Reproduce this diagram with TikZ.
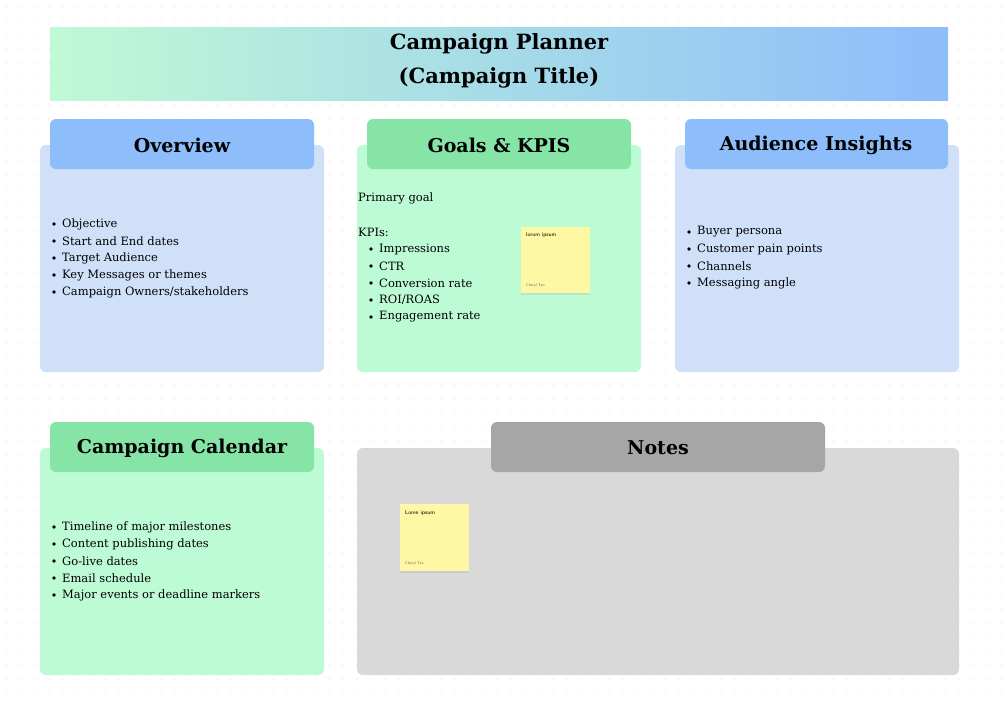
\documentclass[tikz,border=0pt]{standalone}
\usepackage{fontspec}
\setmainfont{DejaVu Serif}
\usetikzlibrary{shadows}
\definecolor{bluehd}{HTML}{8DBDFB}
\definecolor{bluebd}{HTML}{CFE0F8}
\definecolor{greenhd}{HTML}{86E5A6}
\definecolor{greenbd}{HTML}{BDFBD5}
\definecolor{grayhd}{HTML}{A6A6A6}
\definecolor{graybd}{HTML}{D9D9D9}
\definecolor{sticky}{HTML}{FEF8A5}
\begin{document}
\begin{tikzpicture}[x=1pt,y=-1pt,
 body/.style={rounded corners=6pt,draw=none},
 hd/.style={rounded corners=6pt,draw=none},
 hdtext/.style={font=\fontsize{19}{22}\selectfont\bfseries},
 txt/.style={font=\fontsize{11.5}{17}\selectfont,anchor=west,inner sep=0},
 note/.style={fill=sticky,drop shadow={opacity=0.15,shadow xshift=0pt,shadow yshift=-1.5pt}},
 ntxt/.style={font=\sffamily\fontsize{5.5}{6}\selectfont,anchor=west,inner sep=0},
 nsig/.style={font=\sffamily\fontsize{3.8}{4}\selectfont,anchor=west,inner sep=0,text=black!60}]
\useasboundingbox (0,0) rectangle (1005,705);
\fill[white] (0,0) rectangle (1005,705);
\foreach \i in {0,...,71} \foreach \j in {0,...,50}
  \fill[black!14] (7+14*\i,7+14*\j) circle (0.7);
% title
\shade[left color={rgb,255:red,191;green,249;blue,213}, right color={rgb,255:red,141;green,189;blue,251}] (50,27) rectangle (948,100);
\node[font=\fontsize{21}{34}\selectfont\bfseries,align=center] (title) at (499,61) {Campaign Planner\\(Campaign Title)};
% overview
\fill[body,bluebd] (40,145) rectangle (324,372);
\fill[hd,bluehd] (50,119) rectangle (314,169);
\node[hdtext] (ovh) at (182,145) {Overview};
% goals
\fill[body,greenbd] (357,145) rectangle (641,372);
\fill[hd,greenhd] (367,119) rectangle (631,169);
\node[hdtext] (goh) at (499,145) {Goals \& KPIS};
% audience
\fill[body,bluebd] (675,145) rectangle (959,372);
\fill[hd,bluehd] (685,119) rectangle (948,169);
\node[hdtext] (auh) at (816,145) {Audience Insights};
% calendar
\fill[body,greenbd] (40,448) rectangle (324,675);
\fill[hd,greenhd] (50,422) rectangle (314,472);
\node[hdtext] (cah) at (182,448) {Campaign Calendar};
% notes
\fill[body,graybd] (357,448) rectangle (959,675);
\fill[hd,grayhd] (491,422) rectangle (825,472);
\node[hdtext] (noh) at (658,448) {Notes};
% lists
\foreach \t [count=\k] in {Objective,Start and End dates,Target Audience,Key Messages or themes,Campaign Owners/stakeholders}{
  \fill (54,207+17*\k) circle (1.8);
  \node[txt] (ov\k) at (62,207+17*\k) {\t};}
\node[txt] (pg) at (358,198) {Primary goal};
\node[txt] (kp) at (358,232) {KPIs:};
\foreach \t [count=\k] in {Impressions,CTR,Conversion rate,ROI/ROAS,Engagement rate}{
  \fill (371,232+17*\k) circle (1.8);
  \node[txt] (kp\k) at (379,232+17*\k) {\t};}
\foreach \t [count=\k] in {Buyer persona,Customer pain points,Channels,Messaging angle}{
  \fill (689,215+17*\k) circle (1.8);
  \node[txt] (au\k) at (697,215+17*\k) {\t};}
\foreach \t [count=\k] in {Timeline of major milestones,Content publishing dates,Go-live dates,Email schedule,Major events or deadline markers}{
  \fill (54,510+17*\k) circle (1.8);
  \node[txt] (ca\k) at (62,510+17*\k) {\t};}
% sticky notes
\fill[note] (521,227) rectangle (590,293);
\node[ntxt] (s1) at (526,235) {lorum ipsum};
\node[nsig] (s1s) at (526,286) {Cheryl Tan};
\fill[note] (400,504) rectangle (469,571);
\node[ntxt] (s2) at (405,513) {Loren ipsum};
\node[nsig] (s2s) at (405,564) {Cheryl Tan};
\end{tikzpicture}
\end{document}
